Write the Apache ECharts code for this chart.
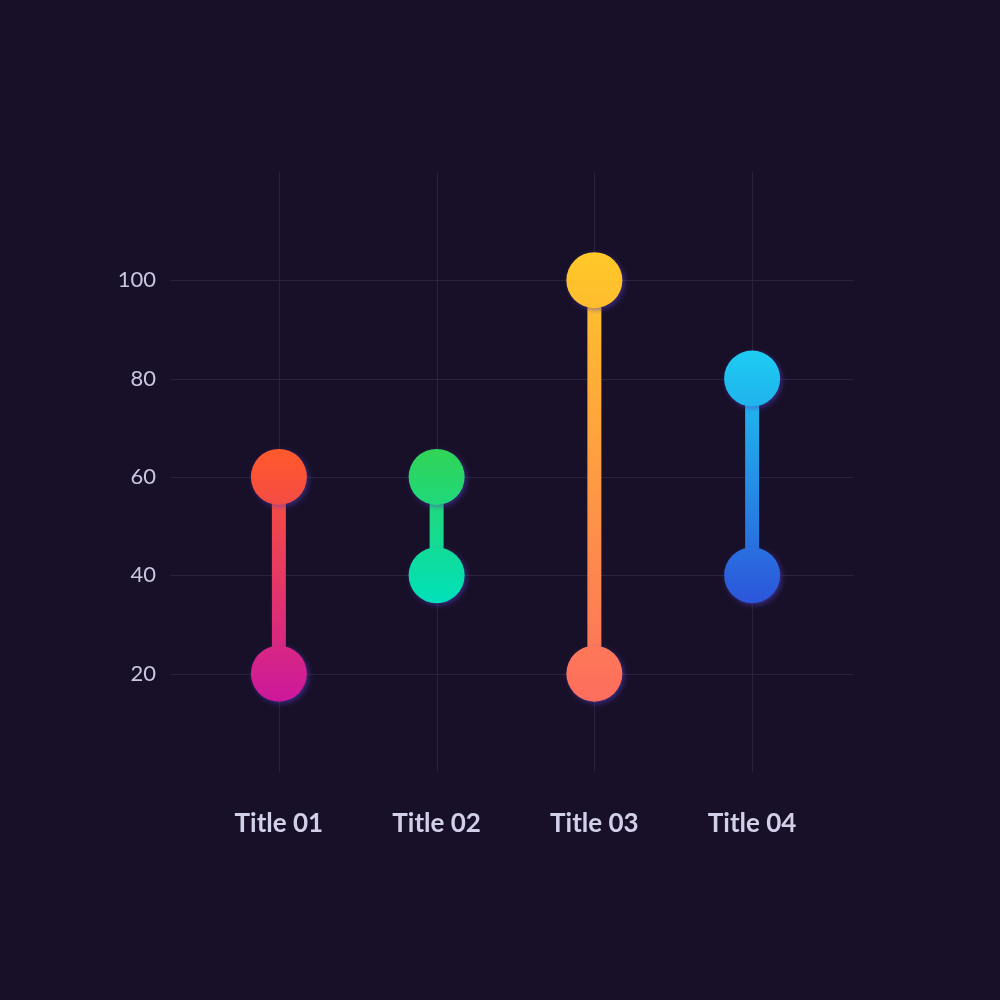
<!DOCTYPE html>
<html>
<head>
<meta charset="utf-8">
<script src="https://cdn.jsdelivr.net/npm/echarts@6/dist/echarts.min.js"></script>
<style>
html,body{margin:0;padding:0;background:#181029;}
#chart{width:1000px;height:1000px;}
</style>
</head>
<body>
<div id="chart"></div>
<script>
// ---- data ----
const categories = ['Title 01', 'Title 02', 'Title 03', 'Title 04'];
const lowValues = [20, 40, 20, 40];
const highValues = [60, 60, 100, 80];
const yTicks = [20, 40, 60, 80, 100];

// ---- styles ----
const topColors = ['#ff5a2b', '#31d456', '#ffc828', '#1dcdf2'];
const bottomColors = ['#cc189c', '#00e0bb', '#fd6d5e', '#2c55da'];

const chart = echarts.init(document.getElementById('chart'));

const yMax = 122;
const gridTop = 172, gridBottom = 228;

const option = {
  backgroundColor: '#181029',
  animation: false,
  grid: [
    { left: 171, right: 147, top: gridTop, bottom: gridBottom },
    { left: 200, right: 169, top: gridTop, bottom: gridBottom }
  ],
  xAxis: [
    { type: 'value', gridIndex: 0, min: 0, max: 1, show: false },
    {
      type: 'category', gridIndex: 1, data: categories,
      axisLine: { show: false }, axisTick: { show: false }, splitLine: { show: false },
      axisLabel: { color: '#d2cfea', fontSize: 26, fontWeight: 'bold', fontFamily: 'Lato', margin: 39 }
    }
  ],
  yAxis: [
    {
      type: 'value', gridIndex: 0, min: 0, max: yMax, interval: 20,
      axisLine: { show: false }, axisTick: { show: false }, splitLine: { show: false },
      axisLabel: {
        color: '#c9c5e2', fontSize: 22, fontFamily: 'Lato', margin: 15,
        padding: [8, 0, 0, 0],
        formatter: v => (yTicks.indexOf(v) >= 0 ? String(v) : '')
      }
    },
    { type: 'value', gridIndex: 1, min: 0, max: yMax, show: false }
  ],
  series: [
    {
      type: 'custom', xAxisIndex: 0, yAxisIndex: 0, silent: true, z: 1,
      data: yTicks.map(v => [0, v]),
      encode: { x: 0, y: 1 },
      renderItem: function (params, api) {
        const cs = params.coordSys;
        const y = Math.round(api.coord([0, api.value(1)])[1]) + 0.5;
        return {
          type: 'line',
          shape: { x1: cs.x, y1: y, x2: cs.x + cs.width, y2: y },
          style: { stroke: '#2a223e', lineWidth: 1 }
        };
      }
    },
    {
      type: 'custom', xAxisIndex: 1, yAxisIndex: 1, silent: true, z: 1,
      data: categories.map((c, i) => [i, 0]),
      encode: { x: 0, y: 1 },
      renderItem: function (params, api) {
        const cs = params.coordSys;
        const x = Math.round(api.coord([api.value(0), 0])[0]) + 0.5;
        return {
          type: 'line',
          shape: { x1: x, y1: cs.y, x2: x, y2: cs.y + cs.height },
          style: { stroke: '#2a223e', lineWidth: 1 }
        };
      }
    },
    {
      type: 'custom', xAxisIndex: 1, yAxisIndex: 1, z: 5,
      data: categories.map((c, i) => [i, lowValues[i], highValues[i]]),
      encode: { x: 0, y: [1, 2] },
      renderItem: function (params, api) {
        const i = api.value(0);
        const lo = api.coord([i, api.value(1)]);
        const hi = api.coord([i, api.value(2)]);
        const r = 28;
        const grad = new echarts.graphic.LinearGradient(0, hi[1] - r, 0, lo[1] + r, [
          { offset: 0, color: topColors[i] },
          { offset: 1, color: bottomColors[i] }
        ], true);
        const circStyle = {
          fill: grad, shadowBlur: 5, shadowColor: 'rgba(80,60,190,0.55)',
          shadowOffsetX: 2, shadowOffsetY: 2
        };
        return {
          type: 'group',
          children: [
            { type: 'rect', shape: { x: hi[0] - 7, y: hi[1], width: 14, height: lo[1] - hi[1] }, style: { fill: grad } },
            { type: 'circle', shape: { cx: hi[0], cy: hi[1], r: r }, style: circStyle },
            { type: 'circle', shape: { cx: lo[0], cy: lo[1], r: r }, style: circStyle }
          ]
        };
      }
    }
  ]
};
chart.setOption(option);
</script>
</body>
</html>
